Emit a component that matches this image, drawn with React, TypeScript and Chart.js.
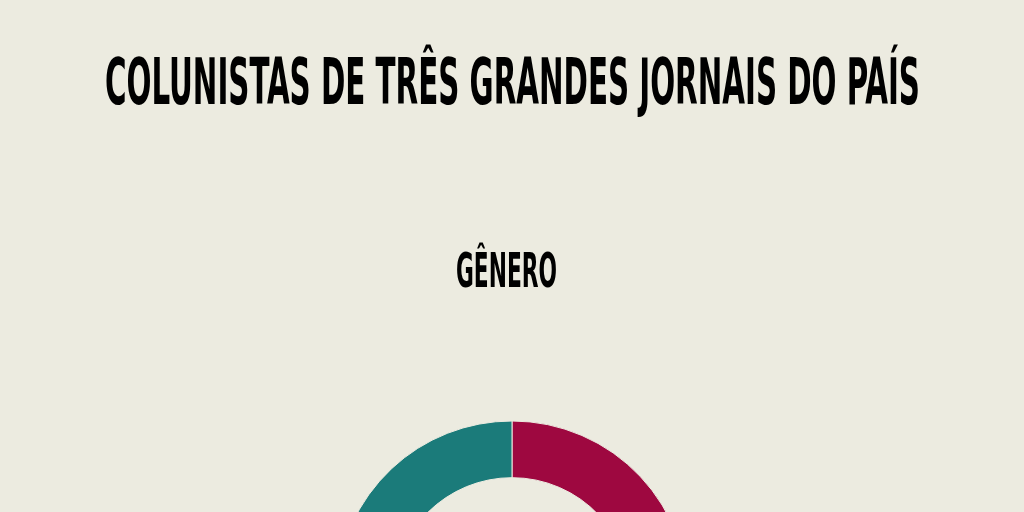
import React, { useEffect, useLayoutEffect, useRef } from "react";
import { Chart, registerables } from "chart.js";

Chart.register(...registerables);

const TITLE = "COLUNISTAS DE TRÊS GRANDES JORNAIS DO PAÍS";
const SUBTITLE = "GÊNERO";
const categories = ["Mulheres", "Homens"];
const values = [26, 74];
const colors = ["#9e0840", "#1b7b7a"];
const BG = "#ecebe0";

function FitText(props: { text: string; size: number; top: number; left: number; width: number }) {
  const ref = useRef<HTMLSpanElement | null>(null);
  useLayoutEffect(() => {
    const el = ref.current;
    if (!el) return;
    el.style.transform = "none";
    const w = el.getBoundingClientRect().width;
    const s = w > 0 ? props.width / w : 1;
    el.style.transform = `scaleX(${s})`;
  }, [props.text, props.size, props.width]);
  return (
    <span
      ref={ref}
      style={{
        position: "absolute",
        left: props.left,
        top: props.top,
        whiteSpace: "nowrap",
        fontFamily: '"Liberation Sans Narrow", "DejaVu Sans Condensed", "Liberation Sans", sans-serif',
        fontWeight: 700,
        fontSize: props.size,
        lineHeight: 1,
        color: "#000",
        transformOrigin: "0 0",
        display: "inline-block",
      }}
    >
      {props.text}
    </span>
  );
}

export default function App() {
  const canvasRef = useRef<HTMLCanvasElement | null>(null);

  useEffect(() => {
    const canvas = canvasRef.current;
    if (!canvas) return;
    const chart = new Chart(canvas, {
      type: "doughnut",
      data: {
        labels: categories,
        datasets: [
          {
            data: values,
            backgroundColor: colors,
            borderColor: BG,
            borderWidth: 1,
          },
        ],
      },
      options: {
        animation: false,
        responsive: true,
        maintainAspectRatio: false,
        radius: 176,
        cutout: 119,
        layout: { padding: { top: 421, bottom: 27, left: 336, right: 336 } },
        plugins: {
          legend: { display: false },
          tooltip: { enabled: false },
          title: { display: false },
        },
      },
    });
    return () => chart.destroy();
  }, []);

  return (
    <div
      style={{
        position: "fixed",
        left: 0,
        top: 0,
        width: 1024,
        height: 512,
        overflow: "hidden",
        background: BG,
      }}
    >
      <div style={{ position: "absolute", left: 0, top: 0, width: 1024, height: 800 }}>
        <canvas ref={canvasRef} />
      </div>
      <FitText text={TITLE} size={64} top={50} left={105} width={815} />
      <FitText text={SUBTITLE} size={48} top={246} left={456} width={101} />
    </div>
  );
}
